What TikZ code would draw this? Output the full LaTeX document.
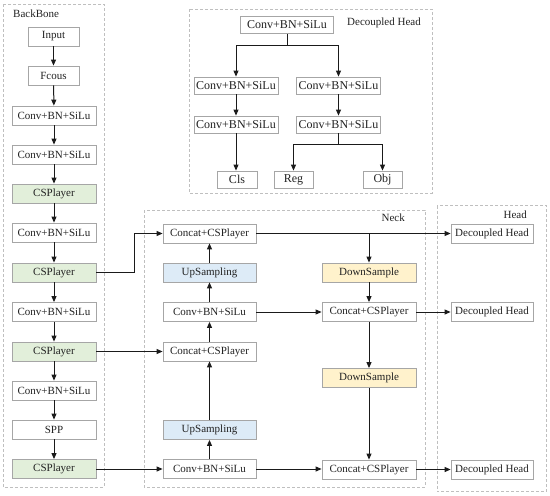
\documentclass[tikz,border=0pt]{standalone}
\usepackage{fontspec}
\setmainfont{Liberation Serif}
\usetikzlibrary{arrows.meta}
\definecolor{boxgray}{HTML}{A6A6A6}
\definecolor{dashgray}{HTML}{BFBFBF}
\definecolor{greenfill}{HTML}{E2EFDA}
\definecolor{bluefill}{HTML}{DDEBF7}
\definecolor{yellowfill}{HTML}{FFF2CC}
\definecolor{linecol}{HTML}{1A1A1A}
\definecolor{textcol}{HTML}{222222}
\tikzset{
  box/.style={draw=boxgray, line width=0.8pt, fill=white, minimum height=19pt,
    inner sep=0pt, text=textcol, font=\fontsize{11}{13}\selectfont},
  hbox/.style={box, minimum height=17pt, font=\fontsize{12}{14}\selectfont},
  greenbox/.style={box, fill=greenfill},
  bluebox/.style={box, fill=bluefill},
  yellowbox/.style={box, fill=yellowfill},
  group/.style={draw=dashgray, line width=0.8pt, dash pattern=on 3pt off 2pt},
  grouplabel/.style={text=textcol, font=\fontsize{11}{13}\selectfont, inner sep=0pt},
  arr/.style={-{Triangle[length=6pt,width=5pt]}, line width=1pt, draw=linecol},
  plain/.style={line width=1pt, draw=linecol},
}
\begin{document}
\begin{tikzpicture}[x=1pt,y=-1pt]
\useasboundingbox (0,0) rectangle (550,496);
% group frames
\draw[group] (3,4) rectangle (104,487);
\draw[group] (189,9) rectangle (432,193);
\draw[group] (144,210) rectangle (425,487);
\draw[group] (437,205.5) rectangle (546.5,491.5);
\node[grouplabel, anchor=west] (lbb) at (13,14) {BackBone};
\node[grouplabel, anchor=west] (ldh) at (347,23) {Decoupled Head};
\node[grouplabel, anchor=east] (lneck) at (405,218) {Neck};
\node[grouplabel, anchor=east] (lhead) at (527,215) {Head};

% backbone
\node[box, minimum width=51pt] (in) at (53.5,36.5) {Input};
\node[box, minimum width=51pt] (fc) at (53.5,75.5) {Fcous};
\node[box, minimum width=84pt] (c1) at (54,115.5) {Conv+BN+SiLu};
\node[box, minimum width=84pt] (c2) at (54,154.5) {Conv+BN+SiLu};
\node[greenbox, minimum width=84pt] (p1) at (54,193.5) {CSPlayer};
\node[box, minimum width=84pt] (c3) at (54,232.5) {Conv+BN+SiLu};
\node[greenbox, minimum width=84pt] (p2) at (54,272.5) {CSPlayer};
\node[box, minimum width=84pt] (c4) at (54,312) {Conv+BN+SiLu};
\node[greenbox, minimum width=84pt] (p3) at (54,351.5) {CSPlayer};
\node[box, minimum width=84pt] (c5) at (54,390.5) {Conv+BN+SiLu};
\node[box, minimum width=84pt] (spp) at (54,429.5) {SPP};
\node[greenbox, minimum width=84pt] (p4) at (54,469) {CSPlayer};

\draw[arr] (in) -- (fc);
\draw[arr] (fc) -- (c1);
\draw[arr] (c1) -- (c2);
\draw[arr] (c2) -- (p1);
\draw[arr] (p1) -- (c3);
\draw[arr] (c3) -- (p2);
\draw[arr] (p2) -- (c4);
\draw[arr] (c4) -- (p3);
\draw[arr] (p3) -- (c5);
\draw[arr] (c5) -- (spp);
\draw[arr] (spp) -- (p4);

% decoupled head detail
\node[hbox, minimum width=93pt] (ht) at (287,25) {Conv+BN+SiLu};
\node[hbox, minimum width=84pt] (hl1) at (236,85.5) {Conv+BN+SiLu};
\node[hbox, minimum width=84pt] (hl2) at (236,124.5) {Conv+BN+SiLu};
\node[hbox, minimum width=84pt] (hr1) at (338.5,85.5) {Conv+BN+SiLu};
\node[hbox, minimum width=84pt] (hr2) at (338.5,124.5) {Conv+BN+SiLu};
\node[hbox, minimum width=40pt] (cls) at (237,179.5) {Cls};
\node[hbox, minimum width=39pt] (reg) at (293.5,179.5) {Reg};
\node[hbox, minimum width=39pt] (obj) at (382.5,179.5) {Obj};

\draw[plain] (ht.south) -- ++(0,11.5) coordinate (b1);
\draw[arr] (b1) -| (hl1.north);
\draw[arr] (b1) -| (hr1.north);
\draw[arr] (hl1) -- (hl2);
\draw[arr] (hr1) -- (hr2);
\draw[arr] (hl2.south) -- (cls.north -| hl2.south);
\draw[plain] (hr2.south) -- ++(0,11.5) coordinate (b2);
\draw[arr] (b2) -| (reg.north);
\draw[arr] (b2) -| (obj.north);

% neck
\node[box, minimum width=93pt] (cat1) at (209.5,233.5) {Concat+CSPlayer};
\node[bluebox, minimum width=93pt] (up1) at (209.5,272.5) {UpSampling};
\node[box, minimum width=93pt] (nc1) at (209.5,312) {Conv+BN+SiLu};
\node[box, minimum width=93pt] (cat2) at (209.5,351.5) {Concat+CSPlayer};
\node[bluebox, minimum width=93pt] (up2) at (209.5,430) {UpSampling};
\node[box, minimum width=93pt] (nc2) at (209.5,469) {Conv+BN+SiLu};

\node[yellowbox, minimum width=94pt] (ds1) at (369,272.5) {DownSample};
\node[box, minimum width=94pt] (cat3) at (369,312) {Concat+CSPlayer};
\node[yellowbox, minimum width=94pt] (ds2) at (369,378) {DownSample};
\node[box, minimum width=94pt] (cat4) at (369,469.5) {Concat+CSPlayer};

% head
\node[box, minimum width=82pt] (dh1) at (492,233.5) {Decoupled Head};
\node[box, minimum width=82pt] (dh2) at (492,312) {Decoupled Head};
\node[box, minimum width=82pt] (dh3) at (492,469.5) {Decoupled Head};

% connections
\draw[arr] (p2.east) -- ++(38,0) |- (cat1.west);
\draw[arr] (p3.east) -- (cat2.west);
\draw[arr] (p4.east) -- (nc2.west);
\draw[arr] (nc2) -- (up2);
\draw[arr] (up2) -- (cat2);
\draw[arr] (cat2) -- (nc1);
\draw[arr] (nc1) -- (up1);
\draw[arr] (up1) -- (cat1);
\draw[arr] (cat1.east) -- (dh1.west);
\draw[arr] (ds1.north |- cat1.east) -- (ds1.north);
\draw[arr] (ds1) -- (cat3);
\draw[arr] (nc1.east) -- (cat3.west);
\draw[arr] (cat3.east) -- (dh2.west);
\draw[arr] (cat3) -- (ds2);
\draw[arr] (ds2) -- (cat4);
\draw[arr] (nc2.east) -- (cat4.west |- nc2.east);
\draw[arr] (cat4.east) -- (dh3.west);
\end{tikzpicture}
\end{document}
